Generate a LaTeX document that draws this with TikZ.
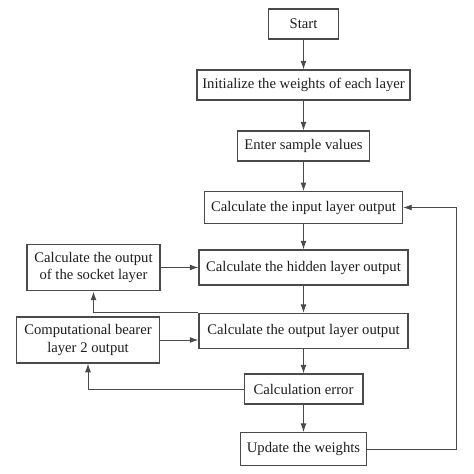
\documentclass[tikz,border=0pt]{standalone}
\usepackage{fontspec}
\setmainfont{Liberation Serif}
\usetikzlibrary{arrows.meta,positioning,calc}
\definecolor{FCCanvas}{HTML}{FFFFFF}
\definecolor{FCLine}{HTML}{4A4A4A}
\definecolor{FCInk}{HTML}{1E1E1E}
\tikzset{
  flow/.style={-{Latex[length=2.2mm,width=1.5mm]},FCLine,line width=0.7pt},
  stepbox/.style={draw=FCLine,line width=0.8pt,fill=FCCanvas,text=FCInk,
                  inner sep=1mm,align=center,font=\fontsize{10.6}{12.6}\selectfont},
}

\begin{document}
\begin{tikzpicture}[x=0.254mm,y=-0.254mm]
    \useasboundingbox[fill=FCCanvas] (0,0) rectangle (474,474);

    % main column
    \node[stepbox,minimum width=17.8mm,minimum height=7.6mm] (start) at (303.5,24) {Start};
    \node[stepbox,minimum width=54.1mm,minimum height=7.6mm] (init) at (303.5,85)
      {Initialize the weights of each layer};
    \node[stepbox,minimum width=33.5mm,minimum height=7.6mm] (enter) at (303.5,146)
      {Enter sample values};
    \node[stepbox,minimum width=50.3mm,minimum height=8mm] (input) at (303.5,207.5)
      {Calculate the input layer output};
    \node[stepbox,minimum width=53.1mm,minimum height=8.9mm] (hidden) at (303.5,267.5)
      {Calculate the hidden layer output};
    \node[stepbox,minimum width=53.1mm,minimum height=8.9mm] (output) at (303.5,331)
      {Calculate the output layer output};
    \node[stepbox,minimum width=30.2mm,minimum height=7.6mm] (error) at (303.5,389)
      {Calculation error};
    \node[stepbox,minimum width=31.8mm,minimum height=8.3mm] (update) at (303.5,449)
      {Update the weights};

    % side boxes
    \node[stepbox,minimum width=33.8mm,minimum height=11.9mm] (socket) at (93.5,267.5)
      {Calculate the output\\of the socket layer};
    \node[stepbox,minimum width=36.2mm,minimum height=11.7mm] (bearer) at (88,340)
      {Computational bearer\\layer 2 output};

    \draw[flow] (start) -- (init);
    \draw[flow] (init) -- (enter);
    \draw[flow] (enter) -- (input);
    \draw[flow] (input) -- (hidden);
    \draw[flow] (hidden) -- (output);
    \draw[flow] (output) -- (error);
    \draw[flow] (error) -- (update);

    \draw[flow] (socket.east) -- (hidden.west |- socket.east);
    \draw[flow] (bearer.east) -- (output.west |- bearer.east);
    \draw[flow] (output.north west) -| (socket.south);
    \draw[flow] (error.west) -| (bearer.south);

    \coordinate (back) at (456.7,449);
    \draw[flow] (update.east) -- (back) |- (input.east);
\end{tikzpicture}
\end{document}
